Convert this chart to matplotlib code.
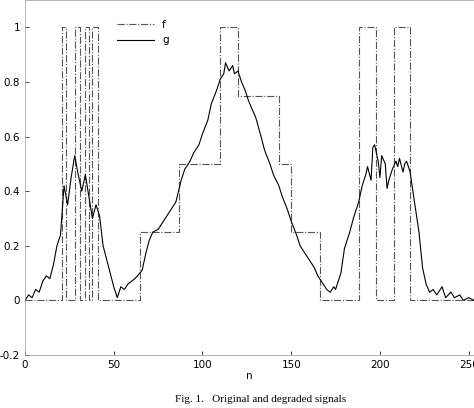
import matplotlib
matplotlib.use("Agg")
import matplotlib.pyplot as plt

# f: piecewise constant (breakpoints, values)
f_n = [0, 21, 21, 23, 23, 28, 28, 31, 31, 34, 34, 36, 36, 38, 38, 41, 41, 65, 65, 87, 87, 110, 110, 120, 120, 143, 143, 150, 150, 166, 166, 188, 188, 198, 198, 208, 208, 217, 217, 256]
f_v = [0, 0, 1, 1, 0, 0, 1, 1, 0, 0, 1, 1, 0, 0, 1, 1, 0, 0, 0.25, 0.25, 0.5, 0.5, 1, 1, 0.75, 0.75, 0.5, 0.5, 0.25, 0.25, 0, 0, 1, 1, 0, 0, 1, 1, 0, 0]

g_n = [0, 2, 4, 6, 8, 10, 12, 14, 16, 18, 20, 22, 24, 26, 28, 30, 32, 34, 36, 38, 40, 42, 44, 46, 48, 50, 52, 54, 56, 58, 62, 66, 68, 70, 72, 75, 78, 80, 83, 85, 88, 90, 93, 95, 98, 100, 103, 105, 108, 110, 112, 113, 115, 117, 118, 120, 122, 124, 126, 128, 130, 133, 135, 138, 140, 143, 145, 148, 150, 153, 155, 158, 160, 163, 165, 168, 170, 172, 174, 175, 178, 180, 183, 185, 188, 190, 192, 193, 195, 196, 197, 199, 200, 201, 203, 204, 205, 207, 209, 210, 211, 213, 214, 215, 217, 219, 222, 224, 226, 228, 230, 232, 235, 237, 240, 242, 245, 247, 250, 253, 256]
g_v = [0.0, 0.02, 0.01, 0.04, 0.03, 0.07, 0.09, 0.08, 0.13, 0.20, 0.24, 0.42, 0.35, 0.45, 0.53, 0.46, 0.40, 0.46, 0.38, 0.30, 0.35, 0.31, 0.20, 0.15, 0.10, 0.05, 0.01, 0.05, 0.04, 0.06, 0.08, 0.11, 0.17, 0.22, 0.25, 0.26, 0.29, 0.31, 0.34, 0.36, 0.44, 0.48, 0.51, 0.54, 0.57, 0.61, 0.66, 0.72, 0.77, 0.81, 0.83, 0.87, 0.84, 0.86, 0.83, 0.84, 0.80, 0.77, 0.73, 0.70, 0.67, 0.60, 0.55, 0.50, 0.46, 0.42, 0.38, 0.33, 0.29, 0.24, 0.20, 0.17, 0.15, 0.12, 0.09, 0.06, 0.04, 0.03, 0.05, 0.04, 0.10, 0.19, 0.25, 0.30, 0.36, 0.42, 0.46, 0.49, 0.44, 0.56, 0.57, 0.51, 0.45, 0.53, 0.50, 0.41, 0.44, 0.48, 0.51, 0.49, 0.52, 0.47, 0.50, 0.51, 0.47, 0.38, 0.25, 0.12, 0.06, 0.03, 0.04, 0.02, 0.05, 0.01, 0.03, 0.01, 0.02, 0.0, 0.01, 0.0, 0.01]

plt.rcParams['font.family'] = 'DejaVu Sans'
fig = plt.figure(figsize=(4.74, 4.08), dpi=100)
ax = fig.add_axes([25/474, 53/408, 449/474, 355/408])
ax.plot(f_n, f_v, color='#555555', lw=0.8, ls='-.')
ax.plot(g_n, g_v, color='black', lw=0.8)
ax.set_xlim(0, 253)
ax.set_ylim(-0.2, 1.1)
ax.set_xticks([0, 50, 100, 150, 200, 250])
ax.set_yticks([-0.2, 0, 0.2, 0.4, 0.6, 0.8, 1])
ax.set_yticklabels(['-0.2', '0', '0.2', '0.4', '0.6', '0.8', '1'])
ax.tick_params(direction='in', labelsize=7.5, length=3, width=0.5)
for s in ax.spines.values():
    s.set_linewidth(0.5)
    s.set_color('#999999')
ax.legend(['f', 'g'], loc='upper left', bbox_to_anchor=(0.185, 0.97), frameon=False, fontsize=7.5, handlelength=3.5)
ax.set_xlabel('n', fontsize=7.5, labelpad=1)
fig.text(0.55, 0.015, 'Fig. 1.   Original and degraded signals', ha='center', fontsize=8, family='Liberation Serif')
fig.savefig('out.png', dpi=100)
